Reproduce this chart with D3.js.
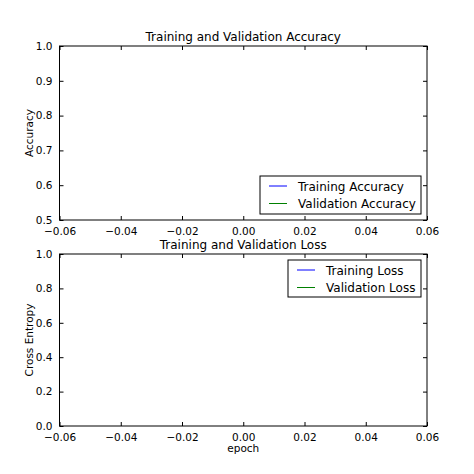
<!DOCTYPE html>
<html><head><meta charset="utf-8">
<script src="https://cdn.jsdelivr.net/npm/d3@7"></script>
<style>body{margin:0;background:#fff}svg{font-family:"DejaVu Sans",sans-serif}</style>
</head><body>
<svg id="c" width="474" height="474"></svg>
<script>
const xTicks=[-0.06,-0.04,-0.02,0.00,0.02,0.04,0.06];
const accTicks=[0.5,0.6,0.7,0.8,0.9,1.0];
const lossTicks=[0.0,0.2,0.4,0.6,0.8,1.0];
const trainAcc=[], valAcc=[], trainLoss=[], valLoss=[];
const svg=d3.select("#c");
const L=59.5,R=427;
function panel(top,bottom,yDom,yT,title,ylabel,series,legendBox,xlabel){
  const x=d3.scaleLinear().domain([-0.06,0.06]).range([L,R]);
  const y=d3.scaleLinear().domain(yDom).range([bottom,top]);
  const g=svg.append("g");
  const fmtX=d=>d3.format(".2f")(d).replace("-","\u2212");
  const ax=(a,tr)=>g.append("g").attr("transform",tr).call(a).call(s=>s.select(".domain").remove());
  ax(d3.axisBottom(x).tickValues(xTicks).tickFormat(fmtX).tickSize(-4).tickPadding(8),`translate(0,${bottom})`);
  ax(d3.axisTop(x).tickValues(xTicks).tickFormat("").tickSize(-4),`translate(0,${top})`);
  ax(d3.axisLeft(y).tickValues(yT).tickFormat(d3.format(".1f")).tickSize(-4).tickPadding(7),`translate(${L},0)`);
  ax(d3.axisRight(y).tickValues(yT).tickFormat("").tickSize(-4),`translate(${R},0)`);
  g.selectAll(".tick text").attr("font-size",10.5).attr("fill","#000").attr("font-family","DejaVu Sans");
  g.append("rect").attr("x",L).attr("y",top).attr("width",R-L).attr("height",bottom-top).attr("fill","none").attr("stroke","#000");
  series.forEach(s=>g.append("path").datum(s.d).attr("fill","none").attr("stroke",s.c)
    .attr("d",d3.line().x(d=>x(d[0])).y(d=>y(d[1]))));
  g.append("text").attr("x",(L+R)/2).attr("y",top-5).attr("text-anchor","middle").attr("font-size",12).text(title);
  g.append("text").attr("transform",`translate(33,${(top+bottom)/2}) rotate(-90)`).attr("text-anchor","middle").attr("font-size",10.5).text(ylabel);
  if(xlabel) g.append("text").attr("x",(L+R)/2).attr("y",bottom+26).attr("text-anchor","middle").attr("font-size",10.5).text(xlabel);
  const [bx,by,bw,bh]=legendBox;
  g.append("rect").attr("x",bx).attr("y",by).attr("width",bw).attr("height",bh).attr("fill","#fff").attr("stroke","#000");
  series.forEach((s,i)=>{
    const yy=by+10+i*17.5;
    g.append("line").attr("x1",bx+9).attr("x2",bx+27).attr("y1",yy).attr("y2",yy).attr("stroke",s.c);
    g.append("text").attr("x",bx+38).attr("y",yy+4.5).attr("font-size",12).text(s.n);
  });
}
panel(46,220,[0.5,1.0],accTicks,"Training and Validation Accuracy","Accuracy",
  [{n:"Training Accuracy",c:"#0000ff",d:trainAcc},{n:"Validation Accuracy",c:"#008000",d:valAcc}],[260,176,161,38]);
panel(254,426,[0,1.0],lossTicks,"Training and Validation Loss","Cross Entropy",
  [{n:"Training Loss",c:"#0000ff",d:trainLoss},{n:"Validation Loss",c:"#008000",d:valLoss}],[288,260,133,37],"epoch");
</script></body></html>
